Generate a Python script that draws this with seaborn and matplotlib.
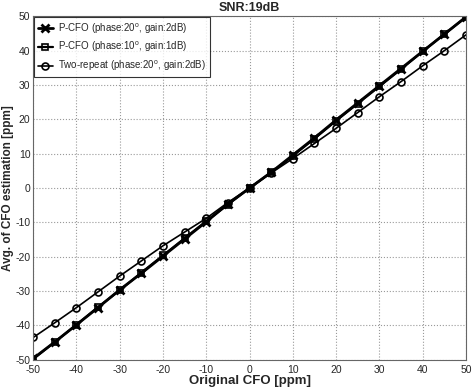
import matplotlib
matplotlib.use("Agg")
import matplotlib.pyplot as plt
import seaborn as sns
import pandas as pd

cfo = [-50, -45, -40, -35, -30, -25, -20, -15, -10, -5, 0,
       5, 10, 15, 20, 25, 30, 35, 40, 45, 50]
pcfo_20 = [-49.6, -44.8, -39.8, -34.8, -29.6, -24.8, -19.8, -14.8, -9.8, -4.6, 0,
           4.6, 9.6, 14.6, 19.8, 24.8, 29.8, 34.8, 39.8, 44.8, 49.8]
pcfo_10 = [-49.8, -44.8, -39.8, -34.6, -29.8, -24.6, -19.6, -14.6, -9.6, -4.8, 0,
           4.6, 9.4, 14.4, 19.6, 24.6, 29.6, 34.6, 39.8, 44.8, 49.8]
two_repeat = [-43.5, -39.2, -34.8, -30.2, -25.6, -21.2, -16.8, -12.8, -8.8, -4.2, 0,
              4.4, 8.6, 13.0, 17.4, 22.0, 26.6, 31.0, 35.6, 40.0, 44.6]
labels = ["P-CFO (phase:20$^\\mathregular{o}$, gain:2dB)",
          "P-CFO (phase:10$^\\mathregular{o}$, gain:1dB)",
          "Two-repeat (phase:20$^\\mathregular{o}$, gain:2dB)"]

sns.set_style("white")
plt.rcParams['font.family'] = ['Liberation Sans', 'DejaVu Sans']
plt.rcParams['axes.unicode_minus'] = False

fig, ax = plt.subplots(figsize=(4.74, 3.89), dpi=100)
fig.subplots_adjust(left=0.07, right=0.983, top=0.958, bottom=0.075)

df = pd.DataFrame({"x": cfo, "a": pcfo_20, "b": pcfo_10, "c": two_repeat})
sns.lineplot(data=df, x="x", y="a", ax=ax, color="black", linewidth=2,
             linestyle="-", marker="x", markersize=6, markeredgewidth=2,
             markeredgecolor="black", label=labels[0])
sns.lineplot(data=df, x="x", y="b", ax=ax, color="black", linewidth=1.6,
             linestyle="-", marker="s", markersize=5, markeredgewidth=1.2,
             markerfacecolor="none", markeredgecolor="black", label=labels[1])
sns.lineplot(data=df, x="x", y="c", ax=ax, color="black", linewidth=1.2,
             linestyle="-", marker="o", markersize=5, markeredgewidth=1.2,
             markerfacecolor="none", markeredgecolor="black", label=labels[2])

ax.set_xlim(-50, 50)
ax.set_ylim(-50, 50)
ax.set_xticks(range(-50, 51, 10))
ax.set_yticks(range(-50, 51, 10))
ax.grid(True, color="#999999", linestyle=":", linewidth=0.8)
ax.tick_params(labelsize=7.5, length=3, pad=2, direction="in", color="#666666")
ax.tick_params(axis="x", pad=4)
for s in ax.spines.values():
    s.set_color("#666666")
    s.set_linewidth(0.8)

ax.set_xlabel("Original CFO [ppm]", fontsize=9.5, fontweight="bold", labelpad=0)
ax.set_ylabel("Avg. of CFO estimation [ppm]", fontsize=8.5, fontweight="bold", labelpad=1)
ax.set_title("SNR:19dB", fontsize=9, fontweight="bold", pad=4)

leg = ax.legend(loc="upper left", fontsize=7, frameon=True, fancybox=False,
                borderaxespad=0.1, handlelength=1.5, handletextpad=0.6,
                labelspacing=0.45, borderpad=0.4)
leg.get_frame().set_edgecolor("black")
leg.get_frame().set_linewidth(0.8)

fig.savefig("out.png", dpi=100)
